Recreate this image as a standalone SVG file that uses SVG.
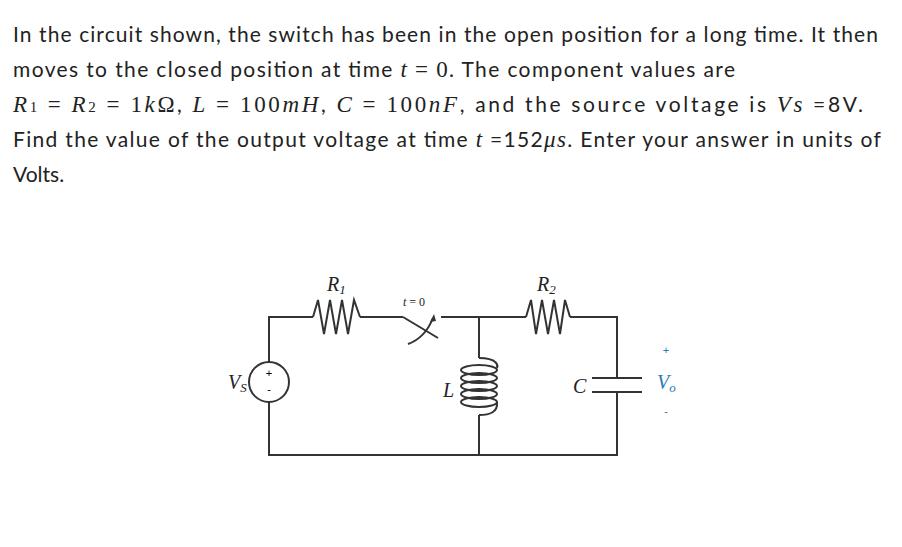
<svg xmlns="http://www.w3.org/2000/svg" width="902" height="547" viewBox="0 0 902 547">
<style>
.t{font-family:Lato,"Liberation Sans",sans-serif;font-size:21px;fill:#222}
.m{font-family:"Liberation Serif",serif;font-style:italic;font-size:23px}
.w{fill:none;stroke:#333;stroke-width:2}
.l{font-family:"Liberation Serif",serif;font-style:italic;font-size:20px;fill:#222}
</style>
<rect width="902" height="547" fill="#fff"/>
<g id="text">
<text class="t" x="13" y="42" textLength="865" lengthAdjust="spacing">In the circuit shown, the switch has been in the open position for a long time.  It then</text>
<text class="t" x="13" y="77" textLength="722" lengthAdjust="spacing">moves to the closed position at time <tspan class="m">t</tspan> <tspan font-family="Liberation Serif,serif" font-size="23">=</tspan> <tspan font-family="Liberation Serif,serif" font-size="23">0</tspan>.  The component values are</text>
<text class="t" x="13" y="112" textLength="850" lengthAdjust="spacing"><tspan class="m">R</tspan><tspan font-size="15" font-family="Liberation Serif,serif">1</tspan> <tspan font-family="Liberation Serif,serif" font-size="23">=</tspan> <tspan class="m">R</tspan><tspan font-size="15" font-family="Liberation Serif,serif">2</tspan> <tspan font-family="Liberation Serif,serif" font-size="23">= 1</tspan><tspan class="m">k</tspan><tspan font-family="Liberation Serif,serif" font-size="23">Ω</tspan>, <tspan class="m">L</tspan> <tspan font-family="Liberation Serif,serif" font-size="23">= 100</tspan><tspan class="m">mH</tspan>, <tspan class="m">C</tspan> <tspan font-family="Liberation Serif,serif" font-size="23">= 100</tspan><tspan class="m">nF</tspan>, and the source voltage is <tspan class="m">V</tspan><tspan class="m" font-size="15">s</tspan> =8V.</text>
<text class="t" x="13" y="147" textLength="868" lengthAdjust="spacing">Find the value of the output voltage at time <tspan class="m">t</tspan> =152<tspan class="m">μs</tspan>.  Enter your answer in units of</text>
<text class="t" x="13" y="182">Volts.</text>
</g>
<g id="connectors">
<path class="w" d="M269 362V317H313M360 317H403M441 317H526M570 317H617V378M617 392V455H269V402M479 317V358M479 415V455"/>
</g>
<g id="R1"><path class="w" d="M313 317L318 300L324 334L330 300L336 334L342 300L348 334L354 300L360 317"/><text class="l" x="327" y="291">R<tspan font-size="13" dy="3">1</tspan></text></g>
<g id="R2"><path class="w" d="M526 317L531 300L536 334L542 300L548 334L554 300L560 334L565 300L570 317"/><text class="l" x="537" y="291">R<tspan font-size="13" dy="3">2</tspan></text></g>
<g id="switch"><path class="w" d="M403 317L438 338"/><path class="w" stroke-width="1.5" d="M408 344Q425 338 433 318"/><path d="M434 314L430 322L436 321Z" fill="#333"/><text x="403" y="306" font-family="Liberation Serif,serif" font-size="12" fill="#222"><tspan font-style="italic">t</tspan> = 0</text></g>
<g id="Vs"><circle class="w" cx="269" cy="382" r="20"/><text x="269" y="377" font-family="Liberation Sans,sans-serif" font-size="11" text-anchor="middle">+</text><text x="269" y="393" font-family="Liberation Sans,sans-serif" font-size="11" text-anchor="middle">-</text><text class="l" x="228" y="389">V<tspan font-size="13" dy="3">S</tspan></text></g>
<g id="L"><path class="w" d="M479 358C498 358 498 366 497 368"/><g class="w" stroke-width="1.8"><ellipse cx="479" cy="370" rx="18" ry="5"/><ellipse cx="479" cy="378" rx="18" ry="5"/><ellipse cx="479" cy="386" rx="18" ry="5"/><ellipse cx="479" cy="394" rx="18" ry="5"/><ellipse cx="479" cy="402" rx="18" ry="5"/></g><path class="w" d="M497 402C498 412 490 415 479 415"/><text class="l" x="443" y="397">L</text></g>
<g id="C"><path class="w" d="M592 378H642M592 392H642"/><text class="l" x="573" y="393">C</text></g>
<g id="Vo" fill="#2a7ab8" font-family="Liberation Sans,sans-serif"><text x="666" y="354" font-size="11" text-anchor="middle">+</text><text class="l" x="657" y="389" style="fill:#2a7ab8">V<tspan font-size="13" dy="3">o</tspan></text><text x="666" y="415" font-size="11" text-anchor="middle">-</text></g>
</svg>
